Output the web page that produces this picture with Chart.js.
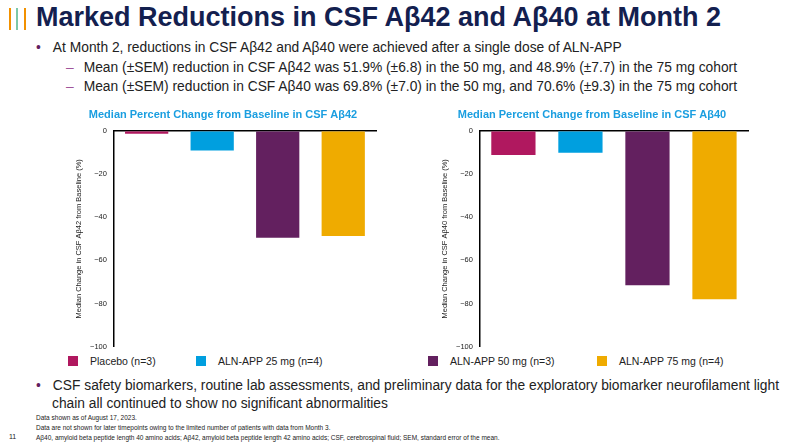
<!DOCTYPE html>
<html><head><meta charset="utf-8">
<script src="https://cdn.jsdelivr.net/npm/chart.js@4"></script>
<style>
body{margin:0;width:800px;height:444px;background:#fff;font-family:Arial,"Liberation Sans",sans-serif;position:relative;overflow:hidden}
.t{position:absolute;white-space:nowrap}
#title{left:36px;top:2px;font-size:27px;font-weight:bold;color:#13204f}
.bar{position:absolute;top:8px;width:2px;height:22px}
.b1{left:36px;font-size:13.8px;color:#222}
.b2{left:66px;font-size:13.8px;color:#222}
.foot{left:36px;font-size:6.5px;color:#222}
.lg{position:absolute;top:355px;font-size:10.5px;color:#222;white-space:nowrap}
.sw{display:inline-block;width:10px;height:10px;vertical-align:-1px;margin-right:12px}
.cv{position:absolute}
</style></head><body>
<div class="bar" style="left:9px;background:#f29100"></div>
<div class="bar" style="left:16px;background:#7cc8a8"></div>
<div class="bar" style="left:24px;background:#f29100"></div>
<div id="title" class="t">Marked Reductions in CSF Aβ42 and Aβ40 at Month 2</div>
<div class="t b1" style="top:40px"><span style="color:#63205F;margin-right:12px">•</span>At Month 2, reductions in CSF Aβ42 and Aβ40 were achieved after a single dose of ALN-APP</div>
<div class="t b2" style="top:60px"><span style="color:#a0559a;margin-right:10px">–</span>Mean (±SEM) reduction in CSF Aβ42 was 51.9% (±6.8) in the 50 mg, and 48.9% (±7.7) in the 75 mg cohort</div>
<div class="t b2" style="top:79px"><span style="color:#a0559a;margin-right:10px">–</span>Mean (±SEM) reduction in CSF Aβ40 was 69.8% (±7.0) in the 50 mg, and 70.6% (±9.3) in the 75 mg cohort</div>
<div class="cv" style="left:70px;top:104px;width:314px;height:250px"><canvas id="c1"></canvas></div>
<div class="cv" style="left:436px;top:104px;width:320px;height:250px"><canvas id="c2"></canvas></div>
<div id="legend"></div>
<div class="t b1" style="top:377px;line-height:18px"><span style="color:#63205F;margin-right:12px">•</span>CSF safety biomarkers, routine lab assessments, and preliminary data for the exploratory biomarker neurofilament light<br><span style="margin-left:16px">chain all continued to show no significant abnormalities</span></div>
<div class="t foot" style="top:414px">Data shown as of August 17, 2023.</div>
<div class="t foot" style="top:424px">Data are not shown for later timepoints owing to the limited number of patients with data from Month 3.</div>
<div class="t foot" style="top:434px">Aβ40, amyloid beta peptide length 40 amino acids; Aβ42, amyloid beta peptide length 42 amino acids; CSF, cerebrospinal fluid; SEM, standard error of the mean.</div>
<div class="t" style="left:9px;top:433px;font-size:7px;color:#222">11</div>
<script>
const categories=["Placebo (n=3)","ALN-APP 25 mg (n=4)","ALN-APP 50 mg (n=3)","ALN-APP 75 mg (n=4)"];
const colors=["#B0185F","#009FDF","#63205F","#EFAB00"];
const ab42=[-1.2,-9,-49.5,-48.7];
const ab40=[-11,-10,-71.5,-78];
const yTicks=[0,-20,-40,-60,-80,-100];
const legX=[68,196,428,597];
const lg=document.getElementById('legend');
categories.forEach((c,i)=>{const d=document.createElement('div');d.className='lg';d.style.left=legX[i]+'px';d.innerHTML='<span class="sw" style="background:'+colors[i]+'"></span>'+c;lg.appendChild(d);});
function mk(id,data,title,ylab){
 new Chart(document.getElementById(id),{type:'bar',
  data:{labels:categories,datasets:[{data:data,backgroundColor:colors,barPercentage:0.66,categoryPercentage:1}]},
  options:{responsive:true,maintainAspectRatio:false,animation:false,
   layout:{padding:{right:8,bottom:0}},
   plugins:{legend:{display:false},tooltip:{enabled:false},
    title:{display:true,text:title,color:'#1a9ee0',font:{size:11,weight:'bold',family:'Arial'},padding:{top:4,bottom:10}}},
   scales:{
    x:{position:'top',grid:{display:false,drawTicks:false},border:{color:'#000',width:1.5},ticks:{display:false}},
    y:{min:-100,max:0,afterBuildTicks:a=>{a.ticks=yTicks.map(v=>({value:v}))},
     grid:{display:false,drawTicks:true,tickLength:4,tickColor:'#000'},border:{color:'#000',width:1.5},
     ticks:{color:'#222',font:{size:7.5},callback:v=>v<0?'−'+Math.abs(v):v},
     title:{display:true,text:ylab,color:'#222',font:{size:7.5}}}}}});
}
mk('c1',ab42,'Median Percent Change from Baseline in CSF Aβ42','Median Change in CSF Aβ42 from Baseline (%)');
mk('c2',ab40,'Median Percent Change from Baseline in CSF Aβ40','Median Change in CSF Aβ40 from Baseline (%)');
</script>
</body></html>
